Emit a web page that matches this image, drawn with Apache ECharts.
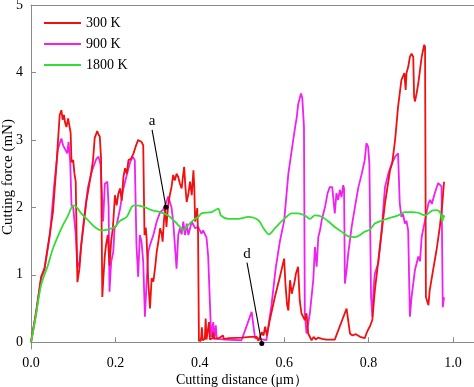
<!DOCTYPE html>
<html>
<head>
<meta charset="utf-8">
<script src="https://cdn.jsdelivr.net/npm/echarts@6/dist/echarts.min.js"></script>
<style>html,body{margin:0;padding:0;background:#fff;}#c{width:474px;height:387px;}</style>
</head>
<body>
<div id="c"></div>
<script>
var seriesNames = ['300 K', '900 K', '1800 K'];
var xTicks = [0, 0.2, 0.4, 0.6, 0.8, 1.0];
var yTicks = [0, 1, 2, 3, 4, 5];

var red300 = [[0,0],[0.012,0.45],[0.024,0.97],[0.032,1.1],[0.042,1.5],[0.052,1.93],[0.06,2.6],[0.068,3.37],[0.072,3.44],[0.075,3.3],[0.078,3.37],[0.081,3.25],[0.084,3.19],[0.088,3.32],[0.092,3.34],[0.094,3.1],[0.096,2.67],[0.1,2.7],[0.103,2.5],[0.106,2.38],[0.108,1.6],[0.11,0.89],[0.112,0.87],[0.115,1.1],[0.119,1.44],[0.125,1.75],[0.131,2.08],[0.137,2.3],[0.143,2.53],[0.147,2.7],[0.151,3.03],[0.154,3.05],[0.157,3.13],[0.16,3.08],[0.163,3.05],[0.166,2.73],[0.169,0.67],[0.172,1.0],[0.175,1.29],[0.178,1.45],[0.182,1.59],[0.186,1.14],[0.19,1.5],[0.194,1.69],[0.199,2.18],[0.203,2.03],[0.207,2.2],[0.211,2.28],[0.215,2.1],[0.219,2.45],[0.223,2.58],[0.227,2.5],[0.231,2.7],[0.237,2.72],[0.243,2.8],[0.248,2.9],[0.254,3.0],[0.258,3.02],[0.262,2.97],[0.266,2.92],[0.269,1.59],[0.272,1.7],[0.274,1.54],[0.278,0.89],[0.282,0.5],[0.286,0.95],[0.29,0.9],[0.294,1.1],[0.298,1.34],[0.302,1.5],[0.306,1.69],[0.31,1.6],[0.312,1.49],[0.315,1.8],[0.318,1.99],[0.321,1.71],[0.325,2.03],[0.329,2.18],[0.333,2.3],[0.337,2.48],[0.341,2.4],[0.345,2.5],[0.349,2.45],[0.353,2.35],[0.357,2.28],[0.36,2.45],[0.363,2.6],[0.366,2.3],[0.369,2.08],[0.373,2.2],[0.377,2.38],[0.381,2.18],[0.385,2.55],[0.387,2.3],[0.389,1.79],[0.392,1.9],[0.394,1.99],[0.396,1.6],[0.398,0.02],[0.403,0.03],[0.405,0.22],[0.407,0.03],[0.412,0.05],[0.414,0.35],[0.416,0.04],[0.42,0.05],[0.422,0.3],[0.424,0.04],[0.43,0.06],[0.432,0.15],[0.434,0.05],[0.445,0.06],[0.455,0.1],[0.457,0.05],[0.47,0.06],[0.5,0.07],[0.52,0.08],[0.535,0.08],[0.539,0.02],[0.547,0.15],[0.551,0.1],[0.555,0.23],[0.559,0.1],[0.566,0.33],[0.578,0.67],[0.59,0.97],[0.6,1.24],[0.603,0.87],[0.607,0.55],[0.61,0.47],[0.614,0.92],[0.618,0.72],[0.621,0.8],[0.624,0.87],[0.628,1.02],[0.633,1.12],[0.637,0.62],[0.641,0.43],[0.645,0.45],[0.649,0.33],[0.653,0.43],[0.657,0.13],[0.665,0.03],[0.67,0.08],[0.675,0.04],[0.68,0.07],[0.69,0.05],[0.7,0.04],[0.72,0.04],[0.748,0.5],[0.752,0.48],[0.756,0.13],[0.762,0.1],[0.77,0.12],[0.78,0.08],[0.791,0.06],[0.795,0.13],[0.8,0.2],[0.803,0.23],[0.809,0.33],[0.815,0.77],[0.827,1.41],[0.839,2.06],[0.851,2.55],[0.856,2.65],[0.863,3.0],[0.87,3.49],[0.878,3.89],[0.885,3.99],[0.888,3.74],[0.89,3.99],[0.894,4.08],[0.898,4.23],[0.902,4.28],[0.906,4.23],[0.908,3.64],[0.91,3.57],[0.914,3.69],[0.918,3.84],[0.926,4.23],[0.932,4.41],[0.934,4.38],[0.936,0.67],[0.942,0.55],[0.945,0.77],[0.953,1.07],[0.961,1.36],[0.969,1.71],[0.975,2.06],[0.979,2.38]];

var mag900 = [[0,0],[0.012,0.42],[0.024,0.95],[0.032,1.08],[0.045,1.6],[0.055,2.33],[0.064,2.87],[0.072,3.02],[0.076,2.92],[0.08,2.9],[0.086,2.8],[0.089,2.97],[0.093,2.67],[0.096,2.03],[0.1,2.0],[0.106,1.6],[0.11,1.1],[0.115,1.2],[0.125,1.8],[0.135,2.3],[0.145,2.55],[0.155,2.72],[0.16,2.75],[0.165,2.63],[0.171,1.79],[0.175,2.35],[0.181,2.38],[0.184,2.0],[0.186,0.75],[0.19,1.19],[0.195,1.34],[0.198,1.69],[0.203,1.74],[0.211,1.98],[0.219,2.28],[0.227,2.48],[0.235,2.67],[0.241,2.75],[0.246,2.7],[0.25,1.44],[0.254,0.97],[0.258,1.59],[0.262,1.49],[0.266,1.19],[0.27,0.38],[0.274,0.89],[0.278,1.34],[0.282,1.44],[0.29,1.59],[0.298,1.79],[0.306,1.93],[0.313,1.96],[0.321,2.08],[0.325,2.16],[0.329,2.18],[0.333,2.0],[0.337,1.79],[0.341,1.44],[0.345,1.09],[0.349,1.59],[0.353,1.69],[0.357,1.6],[0.361,1.79],[0.365,1.59],[0.369,1.76],[0.373,1.59],[0.377,1.59],[0.381,1.79],[0.389,1.69],[0.396,1.71],[0.404,1.61],[0.408,1.66],[0.412,1.66],[0.416,1.55],[0.42,1.27],[0.424,1.27],[0.427,0.08],[0.43,0.06],[0.432,0.3],[0.434,0.05],[0.438,0.25],[0.44,0.05],[0.46,0.04],[0.499,0.03],[0.523,0.45],[0.526,0.45],[0.531,0.06],[0.558,0.03],[0.57,0.55],[0.58,1.1],[0.59,1.5],[0.6,1.8],[0.61,2.5],[0.618,2.85],[0.626,3.19],[0.63,3.34],[0.633,3.52],[0.64,3.69],[0.643,3.62],[0.647,3.19],[0.649,0.43],[0.653,0.13],[0.657,0.15],[0.661,0.43],[0.669,0.92],[0.673,1.41],[0.677,1.12],[0.681,1.56],[0.685,1.66],[0.689,1.81],[0.697,2.01],[0.703,2.21],[0.708,2.3],[0.714,2.3],[0.72,1.91],[0.724,2.21],[0.728,2.11],[0.732,2.26],[0.736,2.15],[0.74,2.33],[0.742,2.28],[0.744,0.87],[0.748,1.07],[0.752,1.32],[0.76,1.71],[0.768,2.01],[0.776,2.3],[0.784,2.5],[0.791,2.7],[0.795,2.95],[0.799,2.9],[0.802,2.65],[0.806,0.67],[0.809,0.38],[0.812,0.8],[0.815,1.02],[0.823,1.17],[0.831,1.66],[0.839,2.3],[0.847,2.5],[0.855,2.65],[0.863,2.75],[0.87,2.8],[0.874,2.06],[0.878,1.86],[0.882,1.9],[0.886,1.76],[0.89,1.8],[0.894,1.66],[0.898,0.38],[0.902,0.67],[0.91,1.07],[0.918,1.27],[0.922,1.2],[0.926,1.56],[0.934,1.81],[0.942,2.06],[0.946,2.11],[0.95,2.05],[0.957,2.21],[0.965,2.36],[0.969,2.38],[0.973,2.31],[0.976,0.52],[0.979,0.67]];

var green1800 = [[0,0],[0.009,0.3],[0.024,0.85],[0.04,1.14],[0.052,1.39],[0.072,1.69],[0.088,1.88],[0.1,2.03],[0.107,2.01],[0.119,1.91],[0.135,1.81],[0.151,1.71],[0.167,1.66],[0.182,1.67],[0.198,1.71],[0.211,1.8],[0.227,1.86],[0.239,2.01],[0.246,2.03],[0.266,2.01],[0.286,1.96],[0.306,1.93],[0.325,1.88],[0.341,1.79],[0.353,1.71],[0.361,1.66],[0.373,1.74],[0.385,1.81],[0.397,1.86],[0.404,1.91],[0.428,1.93],[0.444,1.98],[0.45,1.88],[0.468,1.83],[0.491,1.83],[0.515,1.86],[0.539,1.81],[0.551,1.69],[0.564,1.6],[0.578,1.69],[0.602,1.84],[0.618,1.91],[0.633,1.91],[0.649,1.88],[0.661,1.83],[0.673,1.88],[0.689,1.86],[0.705,1.79],[0.72,1.71],[0.736,1.64],[0.752,1.57],[0.768,1.56],[0.78,1.59],[0.791,1.64],[0.803,1.67],[0.815,1.76],[0.839,1.82],[0.855,1.85],[0.87,1.88],[0.886,1.93],[0.902,1.93],[0.918,1.92],[0.934,1.88],[0.95,1.95],[0.961,1.96],[0.97,1.92],[0.975,1.79],[0.978,1.88],[0.98,1.85]];

var annoA = [[0.287, 3.15], [0.32, 2.0]];
var annoD = [[0.512, 1.18], [0.547, -0.02]];

var serif = '"Liberation Serif", "Times New Roman", serif';
var chart = echarts.init(document.getElementById('c'), null, {renderer: 'canvas'});

function near(v, list) {
  for (var i = 0; i < list.length; i++) if (Math.abs(v - list[i]) < 1e-6) return true;
  return false;
}
function annoSeries(pts, txt) {
  return {
    type: 'line', silent: true, z: 5,
    data: [
      {value: pts[0], symbol: 'circle', symbolSize: 0.01,
        label: {show: true, position: 'top', distance: 1, formatter: txt, color: '#000', fontFamily: serif, fontSize: 15}},
      {value: pts[1], symbol: 'circle', symbolSize: 5}
    ],
    lineStyle: {color: '#000', width: 1.1},
    itemStyle: {color: '#000'}
  };
}

chart.setOption({
  animation: false,
  backgroundColor: '#fff',
  grid: {left: 31, right: 0, top: 5, bottom: 38, containLabel: false, outerBoundsMode: 'none'},
  legend: {
    data: seriesNames, orient: 'vertical', left: 39, top: 11,
    icon: 'rect', itemWidth: 37, itemHeight: 2, itemGap: 7,
    textStyle: {fontFamily: serif, fontSize: 14, color: '#000', lineHeight: 14}
  },
  xAxis: [{
    type: 'value', min: 0, max: 1.05, interval: 0.2,
    name: 'Cutting distance (μm）', nameLocation: 'middle', nameGap: 24, nameMoveOverlap: false,
    nameTextStyle: {fontFamily: serif, fontSize: 14, color: '#000', padding: [0, 21, 0, 0]},
    axisLine: {show: true, lineStyle: {color: '#8a8a8a', width: 1}},
    axisTick: {show: true, inside: true, length: 5, lineStyle: {color: '#8a8a8a'}},
    axisLabel: {fontFamily: serif, fontSize: 14, color: '#000', margin: 7, showMaxLabel: false,
      formatter: function (v) { return near(v, xTicks) ? v.toFixed(1) : ''; }},
    splitLine: {show: false}
  }, {
    type: 'value', position: 'top', min: 0, max: 1.05,
    axisLine: {show: true, lineStyle: {color: '#8a8a8a', width: 1}},
    axisTick: {show: false}, axisLabel: {show: false}, splitLine: {show: false}
  }],
  yAxis: {
    type: 'value', min: -0.1, max: 5, splitNumber: 5,
    name: 'Cutting force (mN)', nameLocation: 'middle', nameGap: 15, nameMoveOverlap: false,
    nameTextStyle: {fontFamily: serif, fontSize: 15, color: '#000'},
    axisLine: {show: true, lineStyle: {color: '#8a8a8a', width: 1}},
    axisTick: {show: true, inside: true, length: 5, lineStyle: {color: '#8a8a8a'}},
    axisLabel: {fontFamily: serif, fontSize: 14, color: '#000', margin: 8, showMinLabel: false,
      formatter: function (v) { return near(v, yTicks) ? String(Math.round(v)) : ''; }},
    splitLine: {show: false}
  },
  series: [
    {name: seriesNames[0], type: 'line', data: red300, symbol: 'none', z: 3,
      lineStyle: {color: '#f01010', width: 1.8}, itemStyle: {color: '#f01010'}},
    {name: seriesNames[1], type: 'line', data: mag900, symbol: 'none', z: 2,
      lineStyle: {color: '#f020f0', width: 1.8}, itemStyle: {color: '#f020f0'}},
    {name: seriesNames[2], type: 'line', data: green1800, symbol: 'none', z: 4, smooth: 0.3,
      lineStyle: {color: '#33dd33', width: 1.8}, itemStyle: {color: '#33dd33'}},
    annoSeries(annoA, 'a'),
    annoSeries(annoD, 'd')
  ]
});
</script>
</body>
</html>
